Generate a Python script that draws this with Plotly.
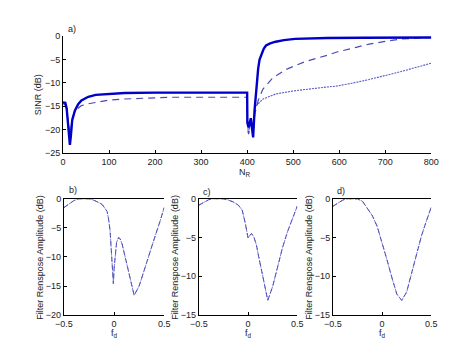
import plotly.graph_objects as go

# ---- top panel a): SINR vs N_R ----
sol_x = [0, 5, 8, 11, 13, 15, 17, 20, 26, 33, 40, 55, 71, 100, 134, 200, 300, 400,
         400.5, 403, 408, 413, 416, 419, 424, 427, 431, 436, 441, 450, 462, 480, 504, 574, 650, 800]
sol_y = [-14.2, -14.3, -15.5, -18.5, -21.5, -23.3, -21.5, -18.0, -15.9, -14.6, -13.8, -13.0, -12.6, -12.4, -12.2, -12.1, -12.1, -12.1,
         -18.5, -19.6, -17.6, -21.7, -16.0, -12.4, -6.9, -5.0, -3.75, -2.7, -2.0, -1.55, -1.2, -0.85, -0.6, -0.4, -0.35, -0.3]

dash_x = [0, 5, 8, 11, 13, 15, 17, 20, 26, 33, 40, 55, 71, 100, 127, 193, 230, 300, 400,
          400.5, 403, 408, 413, 417, 424, 434, 455, 483, 525, 574, 595, 637, 665, 734, 800]
dash_y = [-14.5, -14.7, -15.8, -18.5, -20.5, -21.0, -20.0, -17.5, -16.0, -15.4, -14.9, -14.5, -14.2, -13.7, -13.5, -13.3, -13.1, -13.1, -13.1,
          -19.0, -21.0, -19.0, -20.5, -16.5, -13.8, -11.4, -9.0, -7.2, -5.5, -4.1, -3.4, -2.4, -1.7, -0.6, -0.3]

dot_x = [0, 5, 8, 11, 13, 15, 17, 20, 26, 33, 40, 55, 71, 100, 134, 200, 300, 400,
         400.5, 403, 408, 413, 417, 434, 462, 504, 574, 595, 637, 665, 734, 800]
dot_y = [-14.2, -14.3, -15.5, -18.5, -21.5, -23.0, -21.5, -18.0, -15.9, -14.6, -13.8, -13.0, -12.6, -12.4, -12.2, -12.1, -12.1, -12.1,
         -18.5, -20.8, -18.5, -21.0, -15.2, -13.5, -12.4, -11.7, -10.9, -10.7, -9.9, -9.3, -7.6, -5.8]

# ---- bottom panels: filter response vs f_d ----
b_x = [-0.5, -0.45, -0.4, -0.35, -0.3, -0.25, -0.2, -0.15, -0.12, -0.07, -0.055, -0.04, -0.03, -0.015, -0.007,
       0.0, 0.01, 0.025, 0.045, 0.06, 0.08, 0.106, 0.15, 0.2, 0.25, 0.3, 0.33, 0.38, 0.426, 0.46, 0.5]
b_y = [-1.55, -0.9, -0.35, -0.05, 0.0, -0.05, -0.3, -0.7, -1.0, -2.2, -3.5, -5.5, -7.9, -11.5, -14.6,
       -12.0, -9.6, -7.5, -6.7, -6.9, -7.8, -9.6, -13.0, -16.6, -15.0, -12.5, -10.7, -8.0, -5.7, -3.8, -1.55]

c_x = [-0.5, -0.45, -0.4, -0.35, -0.3, -0.25, -0.2, -0.15, -0.1, -0.06, -0.03, -0.01, 0.0, 0.015, 0.035,
       0.06, 0.085, 0.1, 0.15, 0.2, 0.25, 0.3, 0.35, 0.4, 0.45, 0.5]
c_y = [-0.85, -0.45, -0.15, -0.02, 0.0, -0.05, -0.2, -0.45, -0.85, -1.5, -3.1, -4.7, -5.1, -4.8, -4.5,
       -5.0, -6.0, -7.0, -10.2, -13.1, -11.3, -8.6, -6.3, -4.3, -2.5, -0.97]

d_x = [-0.5, -0.45, -0.4, -0.35, -0.3, -0.25, -0.2, -0.15, -0.1, -0.05, 0.0, 0.05, 0.1, 0.15, 0.2,
       0.25, 0.3, 0.35, 0.4, 0.45, 0.5]
d_y = [-1.0, -0.55, -0.2, -0.03, 0.0, -0.05, -0.35, -1.3, -2.2, -3.6, -5.6, -7.9, -10.2, -12.3, -13.1,
       -12.0, -9.6, -7.0, -4.8, -2.9, -1.1]

top_xticks = [0, 100, 200, 300, 400, 500, 600, 700, 800]
top_yticks = [0, -5, -10, -15, -20, -25]
fd_ticks = [-0.5, 0, 0.5]

FONT = "Liberation Sans, Arial, sans-serif"
W, H = 474, 362

def px(p):
    return p / W

def py(p):
    return 1 - p / H

fig = go.Figure()

fig.add_trace(go.Scatter(x=dot_x, y=dot_y, mode="lines", xaxis="x", yaxis="y",
                         line=dict(color="#5a5ac8", width=1.1, dash="2px,1px")))
fig.add_trace(go.Scatter(x=dash_x, y=dash_y, mode="lines", xaxis="x", yaxis="y",
                         line=dict(color="#4a4ab4", width=1.2, dash="7px,5px")))
fig.add_trace(go.Scatter(x=sol_x, y=sol_y, mode="lines", xaxis="x", yaxis="y",
                         line=dict(color="#0000c8", width=2.4)))

for (xs, ys, xa, ya) in [(b_x, b_y, "x2", "y2"), (c_x, c_y, "x3", "y3"), (d_x, d_y, "x4", "y4")]:
    fig.add_trace(go.Scatter(x=xs, y=ys, mode="lines", xaxis=xa, yaxis=ya,
                             line=dict(color="#8080d8", width=1, dash="2px,1px")))
    fig.add_trace(go.Scatter(x=xs, y=ys, mode="lines", xaxis=xa, yaxis=ya,
                             line=dict(color="#5050b8", width=1, dash="5px,3px")))

axis_common = dict(showgrid=False, zeroline=False, showline=True, linecolor="black", linewidth=1,
                   ticks="inside", ticklen=3, tickcolor="black",
                   tickfont=dict(family=FONT, size=9, color="#222"))

ybot = [py(319), py(199)]
fig.update_layout(
    width=W, height=H,
    margin=dict(l=0, r=0, t=0, b=0),
    paper_bgcolor="white", plot_bgcolor="white",
    showlegend=False,
    xaxis=dict(domain=[px(56), px(438)], range=[0, 800], tickvals=top_xticks, anchor="y", **axis_common),
    yaxis=dict(domain=[py(152), py(32)], range=[-25, 0], tickvals=top_yticks, anchor="x", **axis_common),
    xaxis2=dict(domain=[px(57), px(161)], range=[-0.5, 0.5], tickvals=fd_ticks, anchor="y2",
                mirror=True, **axis_common),
    yaxis2=dict(domain=ybot, range=[-20, 0], tickvals=[0, -5, -10, -15, -20], anchor="x2", **axis_common),
    xaxis3=dict(domain=[px(197), px(299)], range=[-0.5, 0.5], tickvals=fd_ticks, anchor="y3",
                mirror=True, **axis_common),
    yaxis3=dict(domain=ybot, range=[-15, 0], tickvals=[0, -5, -10, -15], anchor="x3", **axis_common),
    xaxis4=dict(domain=[px(336), px(438)], range=[-0.5, 0.5], tickvals=fd_ticks, anchor="y4",
                mirror=True, **axis_common),
    yaxis4=dict(domain=ybot, range=[-15, 0], tickvals=[0, -5, -10, -15], anchor="x4", **axis_common),
)

def ann(text, x, y, angle=0, size=9, xanchor="center", yanchor="middle"):
    fig.add_annotation(text=text, x=px(x), y=py(y), xref="paper", yref="paper", showarrow=False,
                       textangle=angle, xanchor=xanchor, yanchor=yanchor,
                       font=dict(family=FONT, size=size, color="#222"))

ann("a)", 59, 25, xanchor="left")
ann("b)", 60, 190, xanchor="left")
ann("c)", 199, 192, xanchor="left")
ann("d)", 338, 191, xanchor="left")
ann("SINR (dB)", 31, 92, angle=-90)
ann("N<sub>R</sub>", 245, 172)
for xpos in [32, 172, 311]:
    ann("Filter Renspose Amplitude (dB)", xpos, 259, angle=-90)
for xpos in [109, 248, 387]:
    ann("f<sub>d</sub>", xpos, 338)

# remove the default page margin so the figure sits at the window's top-left corner
fig.write_html("out.html",
               config={"displayModeBar": False},
               post_script="document.body.style.margin='0';document.body.style.overflow='hidden';")
